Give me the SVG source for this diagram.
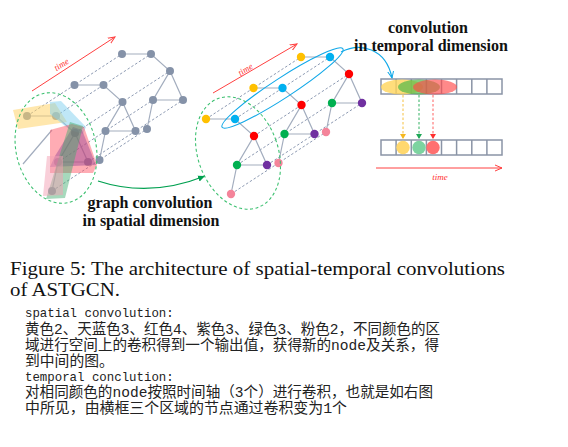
<svg xmlns="http://www.w3.org/2000/svg" width="568" height="447" viewBox="0 0 568 447">
<style>
.edge{stroke:#a3adbe;stroke-width:1.2;fill:none}
.dash{stroke:#8e9bb3;stroke-width:1;stroke-dasharray:2.5,2;fill:none}
.gn{fill:#8592a8}
.gell{fill:none;stroke:#3cc070;stroke-width:1.1;stroke-dasharray:3,2.5}
.tarrow{stroke:#ff4040;stroke-width:1;fill:none}
.tl{font-family:"Liberation Serif",serif;font-style:italic;font-size:9px;fill:#ff3030}
.hd{font-family:"Liberation Serif",serif;font-weight:bold;font-size:16px;fill:#111}
.cap{font-family:"Liberation Serif",serif;font-size:19px;fill:#111}
.mono{font-family:"Liberation Mono",monospace;font-size:12.4px;fill:#222}
.cjk{font-family:"Liberation Mono","Noto Sans CJK SC",monospace;font-size:14.8px;fill:#222}
.cell{fill:#fff;stroke:#8a94a6;stroke-width:1.5}
.y{fill:#ffc000}.b{fill:#00b0f0}.r{fill:#ff0000}.g{fill:#00b050}.p{fill:#7030a0}.k{fill:#f4849a}
</style>
<defs>
<marker id="ar" markerWidth="8" markerHeight="8" refX="7" refY="4" orient="auto" markerUnits="userSpaceOnUse"><path d="M0,1 L7,4 L0,7" fill="none" stroke="#ff4040" stroke-width="1"/></marker>
<marker id="ag" markerWidth="8" markerHeight="8" refX="7" refY="4" orient="auto" markerUnits="userSpaceOnUse"><path d="M0,1 L7,4 L0,7 Z" fill="#00a050"/></marker>
<marker id="ab" markerWidth="8" markerHeight="8" refX="7" refY="4" orient="auto" markerUnits="userSpaceOnUse"><path d="M0,1 L7,4 L0,7" fill="none" stroke="#10a8e8" stroke-width="1"/></marker>
<marker id="my" markerWidth="6" markerHeight="6" refX="5" refY="3" orient="auto" markerUnits="userSpaceOnUse"><path d="M0,0 L5,3 L0,6 Z" fill="#f5b820"/></marker>
<marker id="mg" markerWidth="6" markerHeight="6" refX="5" refY="3" orient="auto" markerUnits="userSpaceOnUse"><path d="M0,0 L5,3 L0,6 Z" fill="#20a858"/></marker>
<marker id="mr" markerWidth="6" markerHeight="6" refX="5" refY="3" orient="auto" markerUnits="userSpaceOnUse"><path d="M0,0 L5,3 L0,6 Z" fill="#ff3030"/></marker>
</defs>

<g id="connectors">
  <path class="dash" d="M27,116L122,54M56,116L151,54M75,133L170,71M58,162L153,100M88,162L183,100M52,191L147,129"/>
  <path class="dash" d="M206,119L301,57M235,119L330,57M254,136L349,74M237,165L332,103M267,165L362,103M231,194L326,132"/>
  <path class="edge" d="M27,116L56,116L75,133L58,162L88,162L75,133M58,162L52,191M23,164L52,130"/>
  <path class="edge" d="M74.5,85L103.5,85L122.5,102L105.5,131L135.5,131L122.5,102M105.5,131L99.5,160"/>
  <path class="edge" d="M122,54L151,54L170,71L153,100L183,100L170,71M153,100L147,129"/>
  <path class="edge" d="M206,119L235,119L254,136L237,165L267,165L254,136M237,165L231,194"/>
  <path class="edge" d="M253.5,88L282.5,88L301.5,105L284.5,134L314.5,134L301.5,105M284.5,134L278.5,163"/>
  <path class="edge" d="M301,57L330,57L349,74L332,103L362,103L349,74M332,103L326,132"/>
  <path class="tarrow" d="M32,91L115,37" marker-end="url(#ar)"/>
  <path class="tarrow" d="M213,93L297,44" marker-end="url(#ar)"/>
  <path class="tarrow" d="M376,168L502,168" marker-end="url(#ar)"/>
  <path d="M98,181Q150,198 205,176" fill="none" stroke="#00a050" stroke-width="1.3" marker-end="url(#ag)"/>
  <path d="M341,52C360,42 386,48 392,78" fill="none" stroke="#10a8e8" stroke-width="1.2" marker-end="url(#ab)"/>
  <path d="M403,95L403,139" stroke="#f5c040" stroke-width="1" stroke-dasharray="2.5,2" marker-end="url(#my)"/>
  <path d="M419,95L419,139" stroke="#30b060" stroke-width="1" stroke-dasharray="2.5,2" marker-end="url(#mg)"/>
  <path d="M433,95L433,139" stroke="#ff6060" stroke-width="1" stroke-dasharray="2.5,2" marker-end="url(#mr)"/>
</g>

<g id="left-graph">
  <g id="left-layer3" class="gn">
    <circle cx="122" cy="54" r="4"/><circle cx="151" cy="54" r="4"/><circle cx="170" cy="71" r="4"/>
    <circle cx="153" cy="100" r="4"/><circle cx="183" cy="100" r="4"/><circle cx="147" cy="129" r="4"/>
  </g>
  <g id="left-layer2" class="gn">
    <circle cx="74.5" cy="85" r="4"/><circle cx="103.5" cy="85" r="4"/><circle cx="122.5" cy="102" r="4"/>
    <circle cx="105.5" cy="131" r="4"/><circle cx="135.5" cy="131" r="4"/><circle cx="99.5" cy="160" r="4"/>
  </g>
  <g id="left-layer1" class="gn">
    <circle cx="27" cy="116" r="4"/><circle cx="56" cy="116" r="4"/><circle cx="75" cy="133" r="4"/>
    <circle cx="58" cy="162" r="4"/><circle cx="88" cy="162" r="4"/><circle cx="52" cy="191" r="4"/>
  </g>
  <g id="receptive-fields">
    <polygon points="13,110 55,103 67,122 18,129" fill="#ffd36a" opacity="0.55"/>
    <polygon points="50,102 61,101 86,127 83,134 70,130 50,114" fill="#7fcff0" opacity="0.5"/>
    <polygon points="50,130 72,124 84,127 97,165 93,173 50,173" fill="#ff5a6a" opacity="0.5"/>
    <polygon points="73,127 82,130 96,165 50,167 55,156" fill="#8a3a90" opacity="0.4"/>
    <polygon points="70,122 83,126 65,198 46,199" fill="#3aaa6a" opacity="0.45"/>
    <polygon points="47,156 63,156 63,195 43,196" fill="#f4a0b4" opacity="0.5"/>
  </g>
  <ellipse class="gell" cx="56" cy="148" rx="40" ry="56" transform="rotate(-13 56 148)"/>
</g>

<g id="middle-graph">
  <g id="mid-layer3">
    <circle class="y" cx="301" cy="57" r="4.2"/><circle class="b" cx="330" cy="57" r="4.2"/><circle class="r" cx="349" cy="74" r="4.2"/>
    <circle class="g" cx="332" cy="103" r="4.2"/><circle class="p" cx="362" cy="103" r="4.2"/><circle class="k" cx="326" cy="132" r="4.2"/>
  </g>
  <g id="mid-layer2">
    <circle class="y" cx="253.5" cy="88" r="4.2"/><circle class="b" cx="282.5" cy="88" r="4.2"/><circle class="r" cx="301.5" cy="105" r="4.2"/>
    <circle class="g" cx="284.5" cy="134" r="4.2"/><circle class="p" cx="314.5" cy="134" r="4.2"/><circle class="k" cx="278.5" cy="163" r="4.2"/>
  </g>
  <g id="mid-layer1">
    <circle class="y" cx="206" cy="119" r="4.2"/><circle class="b" cx="235" cy="119" r="4.2"/><circle class="r" cx="254" cy="136" r="4.2"/>
    <circle class="g" cx="237" cy="165" r="4.2"/><circle class="p" cx="267" cy="165" r="4.2"/><circle class="k" cx="231" cy="194" r="4.2"/>
  </g>
  <ellipse cx="282.5" cy="88" rx="72" ry="10" transform="rotate(-33 282.5 88)" fill="none" stroke="#10a8e8" stroke-width="1.1"/>
  <ellipse class="gell" cx="238" cy="153" rx="40" ry="58" transform="rotate(-20 238 153)"/>
</g>

<g id="temporal-input">
  <rect class="cell" x="381" y="79" width="121" height="15"/>
  <path d="M396.1,79v15M411.3,79v15M426.4,79v15M441.5,79v15M456.6,79v15M471.8,79v15M486.9,79v15" stroke="#8a94a6" stroke-width="1.5"/>
  <ellipse cx="402" cy="87" rx="21" ry="7.5" fill="#ffd55a" opacity="0.8"/>
  <ellipse cx="419" cy="87" rx="21" ry="7.5" fill="#52b848" opacity="0.7"/>
  <ellipse cx="435" cy="87" rx="22" ry="7.5" fill="#ff4a4a" opacity="0.65"/>
</g>
<g id="temporal-output">
  <rect class="cell" x="381" y="140" width="121" height="15"/>
  <path d="M396.1,140v15M411.3,140v15M426.4,140v15M441.5,140v15M456.6,140v15M471.8,140v15M486.9,140v15" stroke="#8a94a6" stroke-width="1.5"/>
  <circle cx="403" cy="147.5" r="6.7" fill="#ffd86e"/>
  <circle cx="419" cy="147.5" r="6.7" fill="#7dd3a0"/>
  <circle cx="433" cy="147.5" r="6.7" fill="#ff7070"/>
</g>

<g id="labels">
  <text class="tl" transform="translate(63,67) rotate(-33)" text-anchor="middle">time</text>
  <text class="tl" transform="translate(247,72) rotate(-33)" text-anchor="middle">time</text>
  <text class="tl" x="440" y="180" text-anchor="middle">time</text>
  <text class="hd" x="150" y="208" text-anchor="middle">graph convolution</text>
  <text class="hd" x="151" y="226" text-anchor="middle">in spatial dimension</text>
  <text class="hd" x="428" y="33" text-anchor="middle">convolution</text>
  <text class="hd" x="431" y="51" text-anchor="middle">in temporal dimension</text>
</g>

<g id="caption">
  <text class="cap" x="10" y="274.5" textLength="495" lengthAdjust="spacingAndGlyphs">Figure 5: The architecture of spatial-temporal convolutions</text>
  <text class="cap" x="10" y="295.8" textLength="110" lengthAdjust="spacingAndGlyphs">of ASTGCN.</text>
</g>

<g id="notes">
  <text class="mono" x="25" y="317">spatial convolution:</text>
  <text class="cjk" x="25" y="334" textLength="415" lengthAdjust="spacingAndGlyphs">黄色2、天蓝色3、红色4、紫色3、绿色3、粉色2，不同颜色的区</text>
  <text class="cjk" x="25" y="350" textLength="414" lengthAdjust="spacingAndGlyphs">域进行空间上的卷积得到一个输出值，获得新的node及关系，得</text>
  <text class="cjk" x="25" y="366">到中间的图。</text>
  <text class="mono" x="25" y="381">temporal conclution:</text>
  <text class="cjk" x="25" y="397" textLength="408" lengthAdjust="spacingAndGlyphs">对相同颜色的node按照时间轴（3个）进行卷积，也就是如右图</text>
  <text class="cjk" x="25" y="413" textLength="322" lengthAdjust="spacingAndGlyphs">中所见，由横框三个区域的节点通过卷积变为1个</text>
</g>
</svg>
